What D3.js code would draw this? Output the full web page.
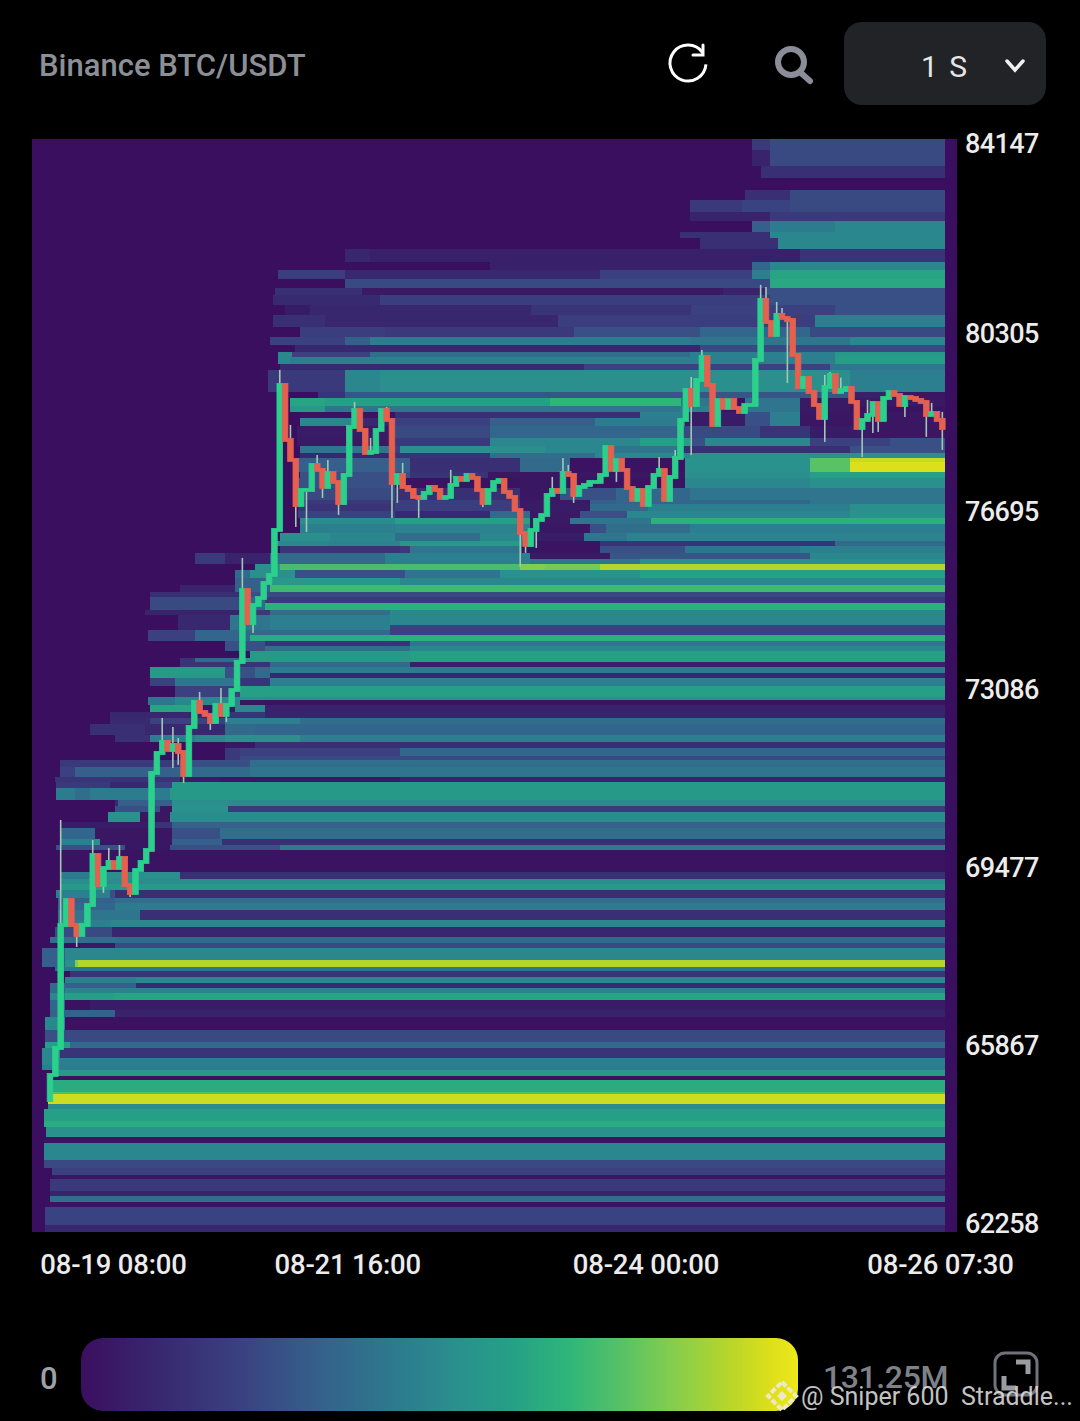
<!DOCTYPE html>
<html>
<head>
<meta charset="utf-8">
<script src="https://cdn.jsdelivr.net/npm/d3@7"></script>
<style>
  html, body { margin: 0; padding: 0; background: #000; }
  svg { display: block; }
  text { font-family: Roboto, sans-serif; }
</style>
</head>
<body>
<script>
// price ticks, time ticks (hours after 08-19 08:00)
const priceTicks = [84147, 80305, 76695, 73086, 69477, 65867, 62258];
const timeTicks = [0, 56, 112, 167.5];
const timeLabels = ["08-19 08:00", "08-21 16:00", "08-24 00:00", "08-26 07:30"];
const maxValue = 131.25; // millions

// value (M) -> colour for the heatmap cells
const colorValues = [0, 15, 25, 35, 50, 60, 70, 80, 90, 100, 112, 125, 131.25];
const colorRange = ["#3b0f5f", "#38286f", "#3a4080", "#35608b", "#2c7f8e", "#2a8f8d", "#25a086",
  "#2fb57a", "#4fbf6a", "#80cd50", "#b5d52c", "#dcdf1a", "#ece81a"];
// where those colours sit along the legend bar
const legendStops = [0, 0.11, 0.22, 0.33, 0.46, 0.52, 0.6, 0.68, 0.74, 0.82, 0.9, 0.96, 1];

// liquidity rows, top edge of every row from top to bottom, the last one closes the plot
const bandEdges = [84251, 84028, 83704, 83461, 83217, 83015, 82771, 82589, 82366, 82244, 82021, 81758,
  81596, 81413, 81231, 81089, 80886, 80684, 80440, 80238, 80075, 79934, 79832, 79690, 79569, 79123,
  79001, 78839, 78717, 78596, 78434, 78190, 78028, 77886, 77785, 77704, 77501, 77380, 77177, 76934,
  76853, 76711, 76569, 76447, 76265, 76103, 76001, 75859, 75738, 75636, 75515, 75353, 75211, 75069,
  74967, 74846, 74704, 74603, 74400, 74299, 74197, 74076, 73974, 73873, 73731, 73650, 73549, 73427,
  73326, 73163, 72940, 72880, 72778, 72636, 72515, 72393, 72170, 72028, 71907, 71745, 71663, 71522,
  71319, 71218, 71096, 70853, 70731, 70609, 70407, 70285, 70062, 69940, 69839, 69393, 69251, 69150,
  69028, 68866, 68765, 68623, 68420, 68278, 68076, 67954, 67853, 67609, 67468, 67386, 67265, 67143,
  67042, 66941, 66799, 66596, 66454, 66191, 65947, 65826, 65623, 65481, 65380, 65258, 65177, 64934,
  64893, 64691, 64589, 64346, 64224, 64022, 63900, 63555, 63393, 63251, 63170, 62927, 62826, 62704,
  62603, 62238, 62096];

// per row: start hour, value (M), start hour, value (M), ...
const bandSegments = [
  [131.4,22,134.8,28],
  [131.4,12,134.8,28],
  [133,18],
  [],
  [130.1,18,138.5,28],
  [119.8,22,129.5,26,138.5,28],
  [119.8,12,134.8,22],
  [131.4,35,134.8,48,146.9,55],
  [117.9,18,134.8,55],
  [121.7,18,136.3,55],
  [55.2,14,59.9,10,140.4,20],
  [82.4,10,131.4,38,134.8,55],
  [42.7,24,55.2,15,102.9,25,131.4,50,134.8,72],
  [55.2,28,134.8,74],
  [42.1,18,58.4,6,126,12,133.8,30],
  [41.7,16,61.8,24,134.8,30],
  [44,8,48.7,14,90,20,120,25,146.9,30],
  [41.7,18,51.5,14,95,24,143.2,50],
  [46.8,24,62.7,22,98,30,121.7,38,142.2,28],
  [41.2,25,55.2,35,59.9,48,119.8,45,149.7,55],
  [45.9,15,59.9,14,121.7,28],
  [42.7,55,45.3,25,59.9,42,119.8,50,146.9,66],
  [42.7,55,44.9,50,146.9,68],
  [43,16,100,26,146,45],
  [40.8,22,55.2,55,61.8,60,149.7,50],
  [50.2,20,55.2,32,149.7,10,158.1,4],
  [44.9,72,51.5,70,93.6,80,118,45,123.5,3,130.1,45,140.4,6],
  [44.9,65,51.5,45,117.9,50,123.5,3,130.1,45,140.4,6,149.7,3],
  [46.8,3,64.6,18,110.4,50,118.8,8,130.1,30,134.8,50,140.4,4],
  [46.8,55,57.1,15,64.6,25,82.4,35,102,48,118.8,8,130.1,30,134.8,50,140.4,4],
  [46.2,8,64.6,28,82.4,38,117.9,28,132.9,20,142.2,8,153.5,4],
  [46.2,6,64.6,22,82.4,55,110.4,68,119.8,30,122.6,55,142.2,25,157.2,30],
  [46.8,45,64.6,25,65.5,60,92.6,55,105,45,117.9,18,149.7,30],
  [46.8,15,64.6,20,82.4,42,102,55,119.8,62,142.2,60],
  [46.4,35,67.4,18,88,40,97.3,3,118.8,62,142.2,92,149.7,118],
  [46.4,35,67.4,18,88,40,97.3,3,118.8,62,142.2,92,149.7,125],
  [46.8,30,67.4,20,82,4,118.8,60,142.2,70],
  [46.4,30,64.6,3,88,4,97,3,118.8,55,142.2,60],
  [46.4,28,64.6,18,88,4,95.5,30,106,38,119.8,45,142.2,45],
  [46.4,22,64.6,24,88,6,101,35,106,38,142.2,45],
  [46.4,20,64.6,24,88,8,101,40,112,50,149.7,60],
  [46.4,25,64.6,15,82.4,40,89.8,6,99.2,30,108,55,149.7,62],
  [46.8,58,64.6,70,89.8,6,97.3,45,112.5,78],
  [46.8,50,64.6,52,89.8,5,101,30,104,42,119.8,50],
  [43,60,52.4,55,64.6,42,80.5,55,89.8,8,100,45,108,52],
  [42.1,55,52.4,52,65.5,65,88.3,3,102.9,20,146.9,40],
  [43,20,65.5,22,67.4,45,88.3,3,102.9,30,118.8,45,140.4,50],
  [27.1,22,32.8,12,41.2,40,62.7,50,89.8,6,104.8,32,142.2,55],
  [27.1,22,32.8,12,41.2,40,62.7,50,89.8,45,110.4,60],
  [38.4,60,43,88,88,100,92.6,98,102.9,112],
  [34.6,40,37.4,60,45.9,30,66.4,45,84.2,62,110.4,70],
  [34.6,35,41.2,65,65.5,55],
  [24.3,12,34.6,35,41.2,85],
  [18.7,18,35.6,30,41.2,28],
  [18.7,28,35.6,40,40.2,22],
  [18.7,28,35.6,40,40.2,78],
  [17.8,12,35.6,22,41.2,42,63.6,55],
  [24,15,33.7,45,41.2,50,63.6,55],
  [24,15,33.7,45,41.2,50,63.6,25],
  [18.3,25,27.1,38,37.4,40,63.6,25],
  [18.3,25,27.1,38,37.4,75,63.6,78],
  [32.8,30,40.2,20,67.4,45],
  [32.8,30,40.2,42,67.4,55],
  [37.4,66,67.4,70],
  [24.3,20,27.1,40,36.5,66,67.4,68],
  [24.3,20,41.2,40,67.4,10],
  [18.7,66,32.8,30,38.4,40,41.2,48],
  [18.7,66,32.8,30,38.4,40,41.2,15],
  [18.7,25,23.4,45,35.6,20,41.2,50],
  [23.4,25,35.6,70],
  [18.3,45,23.4,55,35.6,60],
  [18.3,45,23.4,55,35.6,5,40.2,3],
  [18.7,72,27.1,5,34.6,55,40.2,12],
  [11.2,14,32.8,20,40.2,12],
  [11.2,16,18.7,25,32.8,50,46.8,42],
  [7.5,18,17.8,15,32.8,40,38.4,38],
  [12.2,18,18.7,48,27.1,55,32.8,60,46.8,50],
  [32.8,5,38.4,18],
  [32.8,22,35.6,25,65.5,38],
  [32.8,22,35.6,28],
  [1.9,22,24.3,30,37.4,42],
  [1.9,25,4.7,35,26.2,40,37.4,45],
  [0.9,20,24.3,8,31.8,4,65.5,12],
  [1.1,22,11.2,15,18.7,25,22.8,66],
  [1.1,48,4.7,42,7.5,48,22.5,66],
  [12.2,15,12.7,35,22.8,60,33.3,58],
  [12.2,30,20.6,5,22.8,62,33.3,22],
  [10.9,62,16.8,4,22.5,58],
  [1.9,8,9.4,8,18.7,20,22.8,36],
  [1.9,38,8.4,4,22.8,30,31.8,42],
  [1.9,50,8.4,60,9.4,5,22.8,35,32.2,18],
  [1.1,30,14,5,22.5,30,43,48],
  [1.9,3],
  [1.9,48,9.4,60,24.3,18],
  [1.9,58],
  [1.9,66],
  [1.1,50,11.2,30,12.2,18],
  [1.5,35,12.2,42],
  [1.5,38,12.2,48],
  [1.5,45,16.8,18],
  [1.5,50,11.2,55],
  [0.9,28,11.6,14],
  [0,42,12.2,40],
  [5.6,6,12.2,28],
  [-1.5,35,2.8,55],
  [-1.5,35,2.8,60,4.7,100,5.2,112],
  [0.9,40,2.8,45],
  [3.7,20],
  [2.8,50,16.1,55],
  [0,40,2.8,35,16.1,16],
  [0,40,2.8,52],
  [0,55,2.8,70,12.2,72],
  [0,38,2.8,2,7.5,8],
  [0,36,12.2,12],
  [-0.9,55,2.8,2],
  [-0.9,30,2.8,28],
  [-0.9,70,3.7,40],
  [-1.5,55,1.9,20],
  [-1.5,55,1.9,50],
  [-1.5,50,1.9,48],
  [0.9,66],
  [1.9,2],
  [0,75],
  [-0.4,90],
  [-0.4,120],
  [-0.4,58],
  [-1.1,70],
  [-1.1,75],
  [-0.7,62],
  [-1.1,3],
  [-1.1,55],
  [-1.1,28],
  [0.4,25],
  [0.4,4],
  [0,22],
  [0,12],
  [0,42],
  [0,3],
  [-0.9,26],
  [-0.9,14]
];

// hourly candles, first open then all closes
const firstOpen = 64770;
const closes = [65278, 65826, 68319, 68826, 68319, 68116, 68319, 68724, 69738, 69130, 69474, 69596, 69474, 69677,
  69130, 68968, 69434, 69596, 69839, 71400, 71805, 72028, 71866, 71967, 71826, 71359, 72332, 72839, 72636, 72576,
  72434, 72778, 72576, 72778, 73082, 73650, 75109, 74440, 74805, 74947, 75251, 75413, 76326, 79265, 78150, 77744,
  76832, 77136, 77136, 77643, 77542, 77197, 77481, 77299, 76873, 77440, 78413, 78758, 78353, 77886, 77907, 78353,
  78758, 78555, 77278, 77440, 77197, 77136, 76994, 76974, 77076, 77197, 77136, 76974, 76994, 77238, 77380, 77339,
  77440, 77380, 77136, 76873, 77136, 77299, 77339, 77096, 76994, 76731, 76265, 76021, 76326, 76528, 76630, 77035,
  77136, 77096, 77481, 77440, 77035, 77197, 77238, 77299, 77299, 77440, 78008, 77542, 77744, 77542, 77177, 76934,
  77136, 76832, 77197, 77440, 77542, 76934, 77400, 77785, 78555, 79163, 78859, 79366, 79832, 79265, 78454, 78961,
  78798, 78961, 78798, 78717, 78859, 78859, 79771, 80988, 80542, 80278, 80684, 80623, 80582, 79873, 79224, 79407,
  79123, 78859, 78596, 79224, 79467, 79123, 79163, 79204, 78920, 78393, 78555, 78657, 78900, 78555, 79001, 79123,
  79062, 78859, 79021, 79001, 78961, 78920, 78657, 78697, 78555, 78393];

// wicks that stick out of the bodies: candle index, price
const upperWicks = [[2,70447],[8,70042],[11,69880],[13,69940],[21,72515],[23,72332],[24,72109],[28,73042],[32,73123],
  [36,75758],[43,79569],[45,78454],[50,77846],[52,77744],[57,78920],[60,78190],[63,78819],[66,77684],[75,77542],
  [94,77400],[96,77785],[97,77643],[114,77805],[117,77947],[120,79427],[122,79974],[133,81292],[134,81251],
  [136,80947],[137,80825],[141,79427],[145,79467],[146,79528],[148,79407],[153,78961],[165,78900],[167,78717]];
const lowerWicks = [[5,67873],[10,68968],[15,68886],[23,71501],[24,71562],[25,71197],[30,72272],[33,72434],[38,74238],
  [46,76386],[48,76285],[51,76974],[54,76630],[55,76832],[64,76569],[65,76873],[69,76569],[81,76792],[88,75576],
  [89,75860],[91,75961],[98,76873],[106,77299],[120,77846],[138,79305],[145,78109],[152,77805],[154,78292],
  [155,78311],[160,78616],[164,78211],[167,77947]];

const W = 1080, H = 1421;
const upColor = "#2bd08c", downColor = "#e5604f";

const x = d3.scaleLinear().domain([0, 167.5]).range([50, 945]);
const y = d3.scaleLinear().domain([62258, 84147]).range([1224, 144]);
const color = d3.scaleLinear().domain(colorValues).range(colorRange).clamp(true);

const svg = d3.select("body").append("svg").attr("width", W).attr("height", H);

// header
svg.append("text").attr("x", 39).attr("y", 76).attr("font-size", 31).attr("font-weight", 500)
  .attr("fill", "#8c8f96").text("Binance BTC/USDT");

const refresh = svg.append("g").attr("transform", "translate(688,63)")
  .attr("fill", "none").attr("stroke", "#fff").attr("stroke-width", 3).attr("stroke-linecap", "round");
refresh.append("path").attr("d", d3.arc()({ innerRadius: 18, outerRadius: 18, startAngle: 1.65, endAngle: 2 * Math.PI + 0.95 }));
refresh.append("path").attr("d", "M5,-8H15V-18");

const search = svg.append("g").attr("transform", "translate(791,62)")
  .attr("fill", "none").attr("stroke", "#8b8e98").attr("stroke-linecap", "round");
search.append("circle").attr("r", 13).attr("stroke-width", 6);
search.append("path").attr("d", "M10,11L19,19").attr("stroke-width", 6);

svg.append("rect").attr("x", 844).attr("y", 22).attr("width", 202).attr("height", 83).attr("rx", 18).attr("fill", "#212327");
svg.append("text").attr("x", 945).attr("y", 77).attr("font-size", 30).attr("text-anchor", "middle")
  .attr("letter-spacing", 2).attr("fill", "#e6e6e6").text("1 S");
svg.append("path").attr("d", "M1007,61L1015,70L1023,61").attr("fill", "none")
  .attr("stroke", "#f0f0f0").attr("stroke-width", 3.5).attr("stroke-linecap", "round");

// plot background
svg.append("rect").attr("x", 32).attr("y", y(84251)).attr("width", 925).attr("height", y(62096) - y(84251)).attr("fill", color(0));

// heatmap
const cells = [];
bandSegments.forEach((seg, row) => {
  for (let i = 0; i < seg.length; i += 2) {
    cells.push({ top: bandEdges[row], bottom: bandEdges[row + 1], from: seg[i], to: i + 2 < seg.length ? seg[i + 2] : 167.5, value: seg[i + 1] });
  }
});
const heat = svg.append("g").attr("class", "heat").style("filter", "blur(0.5px)");
heat.selectAll("rect").data(cells).enter().append("rect")
  .attr("x", d => x(d.from))
  .attr("y", d => y(d.top))
  .attr("width", d => x(d.to) - x(d.from))
  .attr("height", d => y(d.bottom) - y(d.top))
  .attr("fill", d => color(d.value))
  .attr("shape-rendering", "crispEdges");

// candles
const candles = closes.map((c, i) => ({ i, open: i ? closes[i - 1] : firstOpen, close: c }));
const upMap = new Map(upperWicks), lowMap = new Map(lowerWicks);
const candleG = svg.append("g").style("filter", "blur(0.4px)");
const candleFill = d => d.close >= d.open ? upColor : downColor;
candleG.selectAll("line").data(candles).enter().append("line")
  .attr("x1", d => x(d.i)).attr("x2", d => x(d.i))
  .attr("y1", d => y(upMap.get(d.i) || Math.max(d.open, d.close)))
  .attr("y2", d => y(lowMap.get(d.i) || Math.min(d.open, d.close)))
  .attr("stroke", d => upMap.has(d.i) || lowMap.has(d.i) ? "#9fc9b4" : candleFill(d))
  .attr("stroke-width", 1.6);
candleG.selectAll("rect").data(candles).enter().append("rect")
  .attr("x", d => x(d.i) - 2.8).attr("width", 5.6)
  .attr("y", d => y(Math.max(d.open, d.close)) - 1.5)
  .attr("height", d => Math.abs(y(d.open) - y(d.close)) + 3)
  .attr("fill", candleFill)
  .attr("stroke", candleFill)
  .attr("stroke-width", 0.8);

// axes
const yAxis = svg.append("g").attr("transform", "translate(965,0)")
  .call(d3.axisRight(y).tickValues(priceTicks).tickSize(0).tickPadding(0).tickFormat(d3.format("d")));
yAxis.select(".domain").remove();
yAxis.selectAll("text").attr("font-family", "Roboto, sans-serif").attr("font-size", 27).attr("font-weight", 500)
  .attr("letter-spacing", -0.6).attr("fill", "#ececec");

const xAxis = svg.append("g").attr("transform", "translate(0,1254)")
  .call(d3.axisBottom(x).tickValues(timeTicks).tickSize(0).tickPadding(0).tickFormat((d, i) => timeLabels[i]));
xAxis.select(".domain").remove();
xAxis.selectAll("text").attr("font-family", "Roboto, sans-serif").attr("font-size", 27.5).attr("font-weight", 500)
  .attr("letter-spacing", -0.2).attr("fill", "#ececec");
// first label is pushed inside the chart, the rest sit just off their tick
xAxis.selectAll(".tick text").attr("dx", (d, i) => [63, -2, -3, -5][i]);

// legend bar
const defs = svg.append("defs");
const grad = defs.append("linearGradient").attr("id", "legendGrad");
legendStops.forEach((s, i) => {
  grad.append("stop").attr("offset", s).attr("stop-color", colorRange[i]);
});
svg.append("rect").attr("x", 81).attr("y", 1338).attr("width", 717).attr("height", 73).attr("rx", 22).attr("fill", "url(#legendGrad)");
svg.append("text").attr("x", 40).attr("y", 1389).attr("font-size", 31).attr("font-weight", 500).attr("fill", "#9fa1a7").text("0");
svg.append("text").attr("x", 823).attr("y", 1388).attr("font-size", 32).attr("font-weight", 500)
  .attr("letter-spacing", -0.4).attr("fill", "#7f8188").text(maxValue + "M");

// expand button
const exp = svg.append("g").attr("fill", "none").attr("stroke", "#70727a");
exp.append("rect").attr("x", 995).attr("y", 1353).attr("width", 42).attr("height", 42).attr("rx", 10).attr("stroke-width", 3);
exp.append("path").attr("d", "M1016,1362H1028V1374").attr("stroke-width", 5).attr("stroke", "#9a9ca2");
exp.append("path").attr("d", "M1004,1376V1388H1016").attr("stroke-width", 5).attr("stroke", "#9a9ca2");

// watermark
svg.append("path").attr("d", "M782,1382L796,1396L782,1410L768,1396Z").attr("fill", "none")
  .attr("stroke", "#efe8c4").attr("stroke-width", 4).attr("stroke-dasharray", "6 2");
svg.append("path").attr("d", "M782,1391L787,1396L782,1401L777,1396Z").attr("fill", "#efe8c4");
svg.append("text").attr("x", 801).attr("y", 1405).attr("font-size", 25).attr("fill", "#e8e8e8").attr("fill-opacity", 0.85)
  .style("white-space", "pre").text("@ Sniper 600  Straddle...");
</script>
</body>
</html>
